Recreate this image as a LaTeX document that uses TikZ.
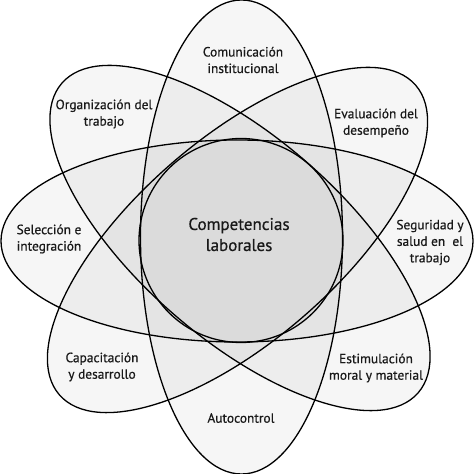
\documentclass[tikz,border=0pt]{standalone}
\usepackage{fontspec}
\setmainfont{PT Sans}[FakeBold=0.6]
\newfontfamily\lblfont{PT Sans}[FakeBold=0.6]
\begin{document}
\begin{tikzpicture}[x=1pt,y=1pt,
  petal/.style={fill=black,fill opacity=0.035,draw=none},
  outline/.style={draw=black,line width=1.3pt,fill=none},
  lbl/.style={font=\lblfont\fontsize{13.4}{16.5}\selectfont,align=center,text=black!90,inner sep=0pt},
  core/.style={font=\lblfont\fontsize{17}{21}\selectfont,align=center,text=black!90,inner sep=0pt}]
\useasboundingbox (0,0) rectangle (474,474);
\fill[white] (0,0) rectangle (474,474);
% centres
\coordinate (ch) at (237,233);
\coordinate (cv) at (241.5,237);
\coordinate (ca) at (240,236);
\coordinate (cb) at (237.5,234);
\coordinate (cc) at (241,233.5);
% fills
\fill[petal] (ch) ellipse [x radius=236, y radius=101];
\fill[petal] (cv) ellipse [x radius=101, y radius=237];
\fill[petal,rotate around={-41:(ca)}] (ca) ellipse [x radius=236, y radius=101];
\fill[petal,rotate around={41:(cb)}] (cb) ellipse [x radius=236, y radius=101];
\fill[black!14] (cc) circle [radius=102];
% outlines
\draw[outline] (ch) ellipse [x radius=236, y radius=101];
\draw[outline] (cv) ellipse [x radius=101, y radius=237];
\draw[outline,rotate around={-41:(ca)}] (ca) ellipse [x radius=236, y radius=101];
\draw[outline,rotate around={41:(cb)}] (cb) ellipse [x radius=236, y radius=101];
\draw[outline] (cc) circle [radius=102];
% labels
\node[core] (core) at (239,239.5) {Competencias\\laborales};
\node[lbl] (com) at (243,414) {Comunicación\\institucional};
\node[lbl] (org) at (104,360) {Organización del\\trabajo};
\node[lbl] (eva) at (376,351) {Evaluación del\\desempeño};
\node[lbl] (sel) at (49,235) {Selección e\\integración};
\node[lbl] (seg) at (430,231.5) {Seguridad y\\salud en\ \ el\\trabajo};
\node[lbl] (cap) at (102,107) {Capacitación\\y desarrollo};
\node[lbl] (est) at (376,106) {Estimulación\\moral y material};
\node[lbl] (aut) at (241,56) {Autocontrol};
\end{tikzpicture}
\end{document}
